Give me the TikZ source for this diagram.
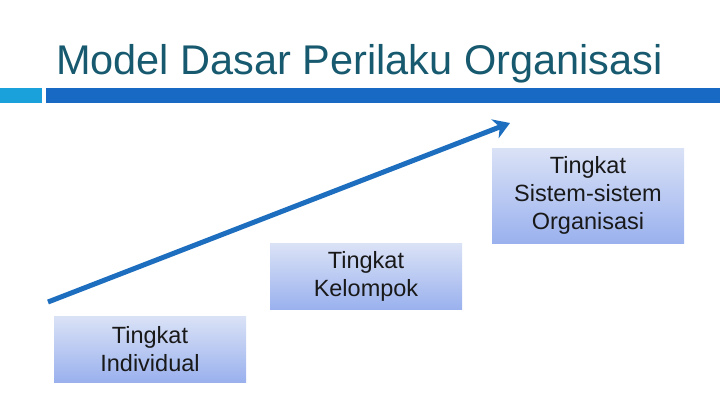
\documentclass[tikz,border=0pt]{standalone}
\usepackage{fontspec}
\setmainfont{Liberation Sans}
\usetikzlibrary{arrows.meta}
\definecolor{titleteal}{HTML}{17596E}
\definecolor{barblue}{HTML}{1769C3}
\definecolor{barlight}{HTML}{1AA0DA}
\definecolor{arrowblue}{HTML}{1E6EC0}
\definecolor{boxtop}{HTML}{DAE2F6}
\definecolor{boxbottom}{HTML}{9AB1EE}
\begin{document}
\begin{tikzpicture}[x=1pt,y=-1pt,level box/.style={rectangle,minimum width=192pt,minimum height=66pt,inner sep=0pt,align=center,top color=boxtop,bottom color=boxbottom,font=\fontsize{23.5}{28}\selectfont,text=black!90}]
                    \useasboundingbox (0,0) rectangle (720,405);
                    \node[anchor=base west,text=titleteal,font=\fontsize{41.5}{48}\selectfont,inner sep=0pt] at (56,74) (title) {Model Dasar Perilaku Organisasi};
                    \fill[barlight] (0,87.5) rectangle (41.5,102.5);
                    \fill[barblue] (46,87.5) rectangle (720,102.5);

                    \node[level box] at (150, 349) (ind) {Tingkat\\Individual};
                    \node[level box] at (366, 276.5) (kel) {Tingkat\\Kelompok};
                    \node[level box,minimum height=95pt] at (588, 195.5) (sis) {Tingkat\\Sistem-sistem\\Organisasi};

                    \coordinate (start) at (48, 302);
                    \coordinate (end) at (510, 123);
                    \draw[arrowblue,line width=5pt,-{Stealth[length=16pt,width=20pt,inset=5pt]}] (start) -- (end);
                \end{tikzpicture}
\end{document}
